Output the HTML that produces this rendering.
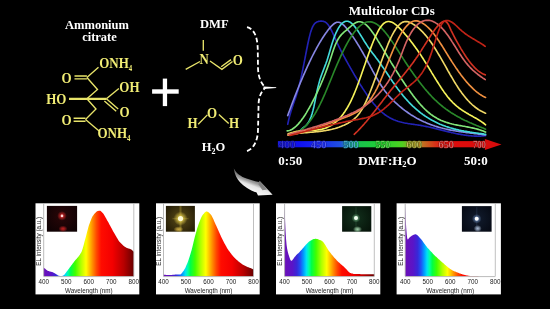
<!DOCTYPE html>
<html><head><meta charset="utf-8"><style>
html,body{margin:0;padding:0;background:#000;}
svg{display:block;}
.t{font-family:"Liberation Serif",serif;font-weight:bold;fill:#fff;}
.y{font-family:"Liberation Serif",serif;font-weight:bold;fill:#f0ec74;}
.tk{font-family:"Liberation Sans",sans-serif;font-size:6.3px;fill:#222;text-anchor:middle;}
.bl{font-family:"Liberation Serif",serif;font-size:9.6px;}
</style></head><body>
<svg width="550" height="309" viewBox="0 0 550 309">
<defs><filter id="soft" x="-5%" y="-5%" width="110%" height="110%"><feGaussianBlur stdDeviation="0.5"/></filter><linearGradient id="sg0" gradientUnits="userSpaceOnUse" x1="43.7" y1="0" x2="133.8" y2="0"><stop offset="0.0000" stop-color="#6c10b8"/><stop offset="0.0875" stop-color="#5a14c8"/><stop offset="0.1375" stop-color="#3828d8"/><stop offset="0.1750" stop-color="#2050f4"/><stop offset="0.2125" stop-color="#00a0ff"/><stop offset="0.2425" stop-color="#00e0f4"/><stop offset="0.2700" stop-color="#00ffa8"/><stop offset="0.3000" stop-color="#00ff48"/><stop offset="0.3500" stop-color="#40ff00"/><stop offset="0.4125" stop-color="#b0ff00"/><stop offset="0.4700" stop-color="#ffff00"/><stop offset="0.5000" stop-color="#ffd000"/><stop offset="0.5375" stop-color="#ff9400"/><stop offset="0.5875" stop-color="#ff4800"/><stop offset="0.6375" stop-color="#ff0c00"/><stop offset="0.7625" stop-color="#f40000"/><stop offset="0.8875" stop-color="#b80000"/><stop offset="1.0000" stop-color="#680000"/></linearGradient><radialGradient id="glow0"><stop offset="0" stop-color="#e02828" stop-opacity="1"/><stop offset="0.45" stop-color="#e02828" stop-opacity="0.6"/><stop offset="1" stop-color="#e02828" stop-opacity="0"/></radialGradient><radialGradient id="rg0"><stop offset="0" stop-color="#c02020" stop-opacity="1"/><stop offset="0.4" stop-color="#c02020" stop-opacity="0.7"/><stop offset="1" stop-color="#c02020" stop-opacity="0"/></radialGradient><radialGradient id="ibg0" gradientUnits="userSpaceOnUse" cx="62" cy="215.9" r="18"><stop offset="0" stop-color="#2a0608"/><stop offset="1" stop-color="#100204"/></radialGradient><linearGradient id="sg1" gradientUnits="userSpaceOnUse" x1="163.5" y1="0" x2="253.5" y2="0"><stop offset="0.0000" stop-color="#6c10b8"/><stop offset="0.0875" stop-color="#5a14c8"/><stop offset="0.1375" stop-color="#3828d8"/><stop offset="0.1750" stop-color="#2050f4"/><stop offset="0.2125" stop-color="#00a0ff"/><stop offset="0.2425" stop-color="#00e0f4"/><stop offset="0.2700" stop-color="#00ffa8"/><stop offset="0.3000" stop-color="#00ff48"/><stop offset="0.3500" stop-color="#40ff00"/><stop offset="0.4125" stop-color="#b0ff00"/><stop offset="0.4700" stop-color="#ffff00"/><stop offset="0.5000" stop-color="#ffd000"/><stop offset="0.5375" stop-color="#ff9400"/><stop offset="0.5875" stop-color="#ff4800"/><stop offset="0.6375" stop-color="#ff0c00"/><stop offset="0.7625" stop-color="#f40000"/><stop offset="0.8875" stop-color="#b80000"/><stop offset="1.0000" stop-color="#680000"/></linearGradient><radialGradient id="glow1"><stop offset="0" stop-color="#f4dc50" stop-opacity="1"/><stop offset="0.45" stop-color="#f4dc50" stop-opacity="0.6"/><stop offset="1" stop-color="#f4dc50" stop-opacity="0"/></radialGradient><radialGradient id="rg1"><stop offset="0" stop-color="#c8a840" stop-opacity="1"/><stop offset="0.4" stop-color="#c8a840" stop-opacity="0.7"/><stop offset="1" stop-color="#c8a840" stop-opacity="0"/></radialGradient><radialGradient id="ibg1" gradientUnits="userSpaceOnUse" cx="180.5" cy="218.6" r="18"><stop offset="0" stop-color="#5a4c18"/><stop offset="1" stop-color="#241c06"/></radialGradient><linearGradient id="sg2" gradientUnits="userSpaceOnUse" x1="284.6" y1="0" x2="374.3" y2="0"><stop offset="0.0000" stop-color="#6c10b8"/><stop offset="0.0875" stop-color="#5a14c8"/><stop offset="0.1375" stop-color="#3828d8"/><stop offset="0.1750" stop-color="#2050f4"/><stop offset="0.2125" stop-color="#00a0ff"/><stop offset="0.2425" stop-color="#00e0f4"/><stop offset="0.2700" stop-color="#00ffa8"/><stop offset="0.3000" stop-color="#00ff48"/><stop offset="0.3500" stop-color="#40ff00"/><stop offset="0.4125" stop-color="#b0ff00"/><stop offset="0.4700" stop-color="#ffff00"/><stop offset="0.5000" stop-color="#ffd000"/><stop offset="0.5375" stop-color="#ff9400"/><stop offset="0.5875" stop-color="#ff4800"/><stop offset="0.6375" stop-color="#ff0c00"/><stop offset="0.7625" stop-color="#f40000"/><stop offset="0.8875" stop-color="#b80000"/><stop offset="1.0000" stop-color="#680000"/></linearGradient><radialGradient id="glow2"><stop offset="0" stop-color="#70b080" stop-opacity="1"/><stop offset="0.45" stop-color="#70b080" stop-opacity="0.6"/><stop offset="1" stop-color="#70b080" stop-opacity="0"/></radialGradient><radialGradient id="rg2"><stop offset="0" stop-color="#a0d0a8" stop-opacity="1"/><stop offset="0.4" stop-color="#a0d0a8" stop-opacity="0.7"/><stop offset="1" stop-color="#a0d0a8" stop-opacity="0"/></radialGradient><radialGradient id="ibg2" gradientUnits="userSpaceOnUse" cx="356" cy="218.1" r="18"><stop offset="0" stop-color="#12301c"/><stop offset="1" stop-color="#06140a"/></radialGradient><linearGradient id="sg3" gradientUnits="userSpaceOnUse" x1="405.2" y1="0" x2="495.3" y2="0"><stop offset="0.0000" stop-color="#6c10b8"/><stop offset="0.0875" stop-color="#5a14c8"/><stop offset="0.1375" stop-color="#3828d8"/><stop offset="0.1750" stop-color="#2050f4"/><stop offset="0.2125" stop-color="#00a0ff"/><stop offset="0.2425" stop-color="#00e0f4"/><stop offset="0.2700" stop-color="#00ffa8"/><stop offset="0.3000" stop-color="#00ff48"/><stop offset="0.3500" stop-color="#40ff00"/><stop offset="0.4125" stop-color="#b0ff00"/><stop offset="0.4700" stop-color="#ffff00"/><stop offset="0.5000" stop-color="#ffd000"/><stop offset="0.5375" stop-color="#ff9400"/><stop offset="0.5875" stop-color="#ff4800"/><stop offset="0.6375" stop-color="#ff0c00"/><stop offset="0.7625" stop-color="#f40000"/><stop offset="0.8875" stop-color="#b80000"/><stop offset="1.0000" stop-color="#680000"/></linearGradient><radialGradient id="glow3"><stop offset="0" stop-color="#7090c0" stop-opacity="1"/><stop offset="0.45" stop-color="#7090c0" stop-opacity="0.6"/><stop offset="1" stop-color="#7090c0" stop-opacity="0"/></radialGradient><radialGradient id="rg3"><stop offset="0" stop-color="#a8b8d0" stop-opacity="1"/><stop offset="0.4" stop-color="#a8b8d0" stop-opacity="0.7"/><stop offset="1" stop-color="#a8b8d0" stop-opacity="0"/></radialGradient><radialGradient id="ibg3" gradientUnits="userSpaceOnUse" cx="476.7" cy="218.8" r="18"><stop offset="0" stop-color="#121c2e"/><stop offset="1" stop-color="#060a14"/></radialGradient><linearGradient id="bar" x1="0" y1="0" x2="1" y2="0"><stop offset="0" stop-color="#1a1ad8"/><stop offset="0.1" stop-color="#1010f0"/><stop offset="0.2" stop-color="#1828f0"/><stop offset="0.3" stop-color="#2050e0"/><stop offset="0.33" stop-color="#2080b0"/><stop offset="0.38" stop-color="#18c050"/><stop offset="0.5" stop-color="#20d030"/><stop offset="0.6" stop-color="#50d020"/><stop offset="0.64" stop-color="#90a020"/><stop offset="0.7" stop-color="#c07020"/><stop offset="0.76" stop-color="#d83018"/><stop offset="0.82" stop-color="#e00c0c"/><stop offset="1" stop-color="#d80c0c"/></linearGradient><linearGradient id="arw" gradientUnits="userSpaceOnUse" x1="249" y1="177" x2="244.5" y2="189"><stop offset="0" stop-color="#6e6e6e"/><stop offset="0.3" stop-color="#a0a0a0"/><stop offset="0.55" stop-color="#e6e6e6"/><stop offset="1" stop-color="#f6f6f6"/></linearGradient></defs>
<rect width="550" height="309" fill="#000"/>
<!-- titles -->
<text x="97" y="28.8" class="t" font-size="12.5" text-anchor="middle">Ammonium</text>
<text x="99.5" y="40.7" class="t" font-size="12.5" text-anchor="middle">citrate</text>
<text x="214.3" y="28.2" class="t" font-size="12.6" text-anchor="middle">DMF</text>
<text x="391.8" y="14.5" class="t" font-size="13" text-anchor="middle">Multicolor CDs</text>
<text x="213.6" y="151.3" class="t" font-size="12.5" text-anchor="middle">H<tspan font-size="8" dy="2.5">2</tspan><tspan dy="-2.5">O</tspan></text>
<text x="278.3" y="164.5" class="t" font-size="13">0:50</text>
<text x="358.3" y="164.5" class="t" font-size="13">DMF:H<tspan font-size="8.5" dy="2.5">2</tspan><tspan dy="-2.5">O</tspan></text>
<text x="463.9" y="164.5" class="t" font-size="13">50:0</text>
<!-- ammonium citrate structure -->
<g stroke="#e8e46a" stroke-width="1.35" fill="none">
<path d="M74.5,76 H86.9 M74.5,78.9 H86.9"/>
<path d="M86.9,77.5 L98.5,67.3 M86.9,77.5 L97.5,89.5 L86.9,98.7"/>
<path d="M69,98.9 H106.4" stroke-width="2.1"/>
<path d="M106.4,98.7 L118.9,88.4"/>
<path d="M106.4,98.7 L118.2,109.1 M104.4,100.9 L116.2,111.3"/>
<path d="M86.9,98.7 L96,109 L85.5,119.5"/>
<path d="M73.6,118.2 H85.5 M73.6,121.2 H85.5"/>
<path d="M85.5,119.5 L99.1,130.9"/>
</g>
<text transform="translate(99.2,68) scale(1,1.16)" class="y" font-size="13">ONH<tspan font-size="6.8" dy="2.3">4</tspan></text>
<text transform="translate(61.6,83) scale(1,1.16)" class="y" font-size="13">O</text>
<text transform="translate(119.3,91.7) scale(1,1.16)" class="y" font-size="13">OH</text>
<text transform="translate(46.2,103.6) scale(1,1.16)" class="y" font-size="13">HO</text>
<text transform="translate(119.6,116.6) scale(1,1.16)" class="y" font-size="13">O</text>
<text transform="translate(61.6,124.6) scale(1,1.16)" class="y" font-size="13">O</text>
<text transform="translate(97.4,138) scale(1,1.16)" class="y" font-size="13">ONH<tspan font-size="6.8" dy="2.3">4</tspan></text>
<!-- plus -->
<rect x="152.1" y="89.3" width="26.6" height="4.4" fill="#fff"/>
<rect x="162.8" y="78.6" width="4.3" height="27.5" fill="#fff"/>
<!-- DMF structure -->
<g stroke="#e8e46a" stroke-width="1.35" fill="none">
<path d="M203.3,40.1 V50.8"/>
<path d="M200,61.5 L185.7,69.4"/>
<path d="M210,61 L221.9,69.4 L232.5,61.5 M221.2,66.8 L231,59.6"/>
</g>
<text transform="translate(199.6,64.3) scale(1,1.16)" class="y" font-size="12.8">N</text>
<text transform="translate(232.8,65) scale(1,1.16)" class="y" font-size="13">O</text>
<!-- water -->
<g stroke="#e8e46a" stroke-width="1.35" fill="none"><path d="M198.2,124.2 L207.4,114.9 M218.9,114.4 L228.7,123.6"/></g>
<text transform="translate(187.5,127.6) scale(1,1.16)" class="y" font-size="13">H</text>
<text transform="translate(207,117.5) scale(1,1.16)" class="y" font-size="13">O</text>
<text transform="translate(229,127.9) scale(1,1.16)" class="y" font-size="13">H</text>
<!-- brace -->
<g stroke="#fff" stroke-width="1.8" fill="none" stroke-dasharray="4.8,2.6">
<path d="M247,27.1 C252,28.2 255.5,33 256.8,40 C257.6,44 257.8,48 257.8,52 L258,68 C258.2,76 260.5,83 265.5,87.6"/>
<path d="M265.5,87.6 C261,91.5 258.8,97 258.6,104 L258,130 C257.8,140 254,148.5 247,151.1" stroke-dashoffset="2"/>
</g>
<path d="M263.5,86.5 L276.2,87.3 L276.2,88 L263.5,88.9 Z" fill="#fff"/>
<!-- spectra curves -->
<g fill="none" stroke-width="1.65" stroke-linejoin="round" stroke-linecap="round" filter="url(#soft)">
<path d="M287.7,124.3 L288.7,119.8 L289.7,115.9 L290.7,112.3 L291.7,109.0 L292.7,106.0 L293.7,103.1 L294.7,100.3 L295.7,97.4 L296.7,94.3 L297.7,91.0 L298.7,87.4 L299.7,83.4 L300.7,79.1 L301.7,74.6 L302.7,69.8 L303.7,64.9 L304.7,59.8 L305.7,54.6 L306.7,49.5 L307.7,44.5 L308.7,39.8 L309.7,35.6 L310.7,31.9 L311.7,29.0 L312.7,26.6 L313.7,24.9 L314.7,23.6 L315.7,22.7 L316.7,22.1 L317.7,21.7 L318.7,21.4 L319.7,21.2 L320.7,21.1 L321.7,21.1 L322.7,21.2 L323.7,21.4 L324.7,21.8 L325.7,22.4 L326.7,23.2 L327.7,24.3 L328.7,25.6 L329.7,27.2 L330.7,29.0 L331.7,30.9 L332.7,33.0 L333.7,35.1 L334.7,37.4 L335.7,39.6 L336.7,41.8 L337.7,44.0 L338.7,46.1 L339.7,48.2 L340.7,50.2 L341.7,52.1 L342.7,54.0 L343.7,55.9 L344.7,57.7 L345.7,59.5 L346.7,61.3 L347.7,63.1 L348.7,64.9 L349.7,66.6 L350.7,68.4 L351.7,70.2 L352.7,71.9 L353.7,73.6 L354.7,75.3 L355.7,77.0 L356.7,78.7 L357.7,80.4 L358.7,82.0 L359.7,83.7 L360.7,85.3 L361.7,86.8 L362.7,88.4 L363.7,89.9 L364.7,91.4 L365.7,92.9 L366.7,94.4 L367.7,95.8 L368.7,97.2 L369.7,98.5 L370.7,99.9 L371.7,101.2 L372.7,102.4 L373.7,103.7 L374.7,104.8 L375.7,106.0 L376.7,107.1 L377.7,108.2 L378.7,109.2 L379.7,110.2 L380.7,111.1 L381.7,112.0 L382.7,112.9 L383.7,113.7 L384.7,114.5 L385.7,115.2 L386.7,115.9 L387.7,116.5 L388.7,117.1 L389.7,117.7 L390.7,118.2 L391.7,118.7 L392.7,119.2 L393.7,119.7 L394.7,120.1 L395.7,120.5 L396.7,120.8 L397.7,121.2 L398.7,121.5 L399.7,121.8 L400.7,122.0 L401.7,122.3 L402.7,122.5 L403.7,122.8 L404.7,123.0 L405.7,123.2 L406.7,123.3 L407.7,123.5 L408.7,123.7 L409.7,123.8 L410.7,124.0 L411.7,124.1 L412.7,124.3 L413.7,124.4 L414.7,124.5 L415.7,124.7 L416.7,124.8 L417.7,125.0 L418.7,125.1 L419.7,125.3 L420.7,125.4 L421.7,125.6 L422.7,125.8 L423.7,126.0 L424.7,126.2 L425.7,126.4 L426.7,126.6 L427.7,126.8 L428.7,127.0 L429.7,127.2 L430.7,127.4 L431.7,127.7 L432.7,127.9 L433.7,128.1 L434.7,128.4 L435.7,128.6 L436.7,128.9 L437.7,129.1 L438.7,129.4 L439.7,129.6 L440.7,129.9 L441.7,130.1 L442.7,130.4 L443.7,130.6 L444.7,130.9 L445.7,131.1 L446.7,131.4 L447.7,131.6 L448.7,131.9 L449.7,132.1 L450.7,132.3 L451.7,132.6 L452.7,132.8 L453.7,133.0 L454.7,133.2 L455.7,133.5 L456.7,133.7 L457.7,133.9 L458.7,134.1 L459.7,134.3 L460.7,134.4 L461.7,134.6 L462.7,134.8 L463.7,135.0 L464.7,135.1 L465.7,135.3 L466.7,135.4 L467.7,135.5 L468.7,135.6 L469.7,135.7 L470.7,135.8 L471.7,135.9 L472.7,136.0 L473.7,136.0 L474.7,136.1 L475.7,136.1 L476.7,136.1 L477.7,136.2 L478.7,136.1 L479.7,136.1 L480.7,136.1 L481.7,136.0 L482.7,136.0 L483.7,135.9 L484.7,135.8 L485.6,135.7" stroke="#2222b4" />
<path d="M287.7,115.6 L288.7,112.9 L289.7,110.2 L290.7,107.5 L291.7,104.8 L292.7,102.1 L293.7,99.5 L294.7,96.9 L295.7,94.4 L296.7,91.8 L297.7,89.3 L298.7,86.8 L299.7,84.4 L300.7,81.9 L301.7,79.6 L302.7,77.2 L303.7,74.9 L304.7,72.6 L305.7,70.3 L306.7,68.1 L307.7,65.9 L308.7,63.8 L309.7,61.6 L310.7,59.6 L311.7,57.5 L312.7,55.5 L313.7,53.6 L314.7,51.6 L315.7,49.8 L316.7,47.9 L317.7,46.1 L318.7,44.4 L319.7,42.7 L320.7,41.0 L321.7,39.4 L322.7,37.8 L323.7,36.3 L324.7,34.8 L325.7,33.3 L326.7,32.0 L327.7,30.6 L328.7,29.3 L329.7,28.1 L330.7,26.9 L331.7,25.8 L332.7,24.8 L333.7,24.0 L334.7,23.3 L335.7,22.7 L336.7,22.3 L337.7,22.2 L338.7,22.2 L339.7,22.5 L340.7,22.9 L341.7,23.5 L342.7,24.3 L343.7,25.2 L344.7,26.2 L345.7,27.3 L346.7,28.5 L347.7,29.7 L348.7,31.0 L349.7,32.3 L350.7,33.6 L351.7,35.0 L352.7,36.4 L353.7,37.9 L354.7,39.4 L355.7,40.9 L356.7,42.5 L357.7,44.1 L358.7,45.7 L359.7,47.4 L360.7,49.1 L361.7,50.8 L362.7,52.5 L363.7,54.3 L364.7,56.1 L365.7,57.9 L366.7,59.7 L367.7,61.5 L368.7,63.4 L369.7,65.2 L370.7,67.1 L371.7,68.9 L372.7,70.8 L373.7,72.6 L374.7,74.4 L375.7,76.2 L376.7,78.0 L377.7,79.7 L378.7,81.4 L379.7,83.1 L380.7,84.7 L381.7,86.3 L382.7,87.8 L383.7,89.3 L384.7,90.7 L385.7,92.0 L386.7,93.3 L387.7,94.5 L388.7,95.7 L389.7,96.8 L390.7,97.9 L391.7,98.9 L392.7,99.9 L393.7,100.9 L394.7,101.9 L395.7,102.8 L396.7,103.7 L397.7,104.6 L398.7,105.5 L399.7,106.4 L400.7,107.2 L401.7,108.0 L402.7,108.8 L403.7,109.6 L404.7,110.4 L405.7,111.1 L406.7,111.8 L407.7,112.5 L408.7,113.2 L409.7,113.9 L410.7,114.6 L411.7,115.2 L412.7,115.8 L413.7,116.4 L414.7,117.0 L415.7,117.6 L416.7,118.2 L417.7,118.7 L418.7,119.2 L419.7,119.8 L420.7,120.3 L421.7,120.8 L422.7,121.2 L423.7,121.7 L424.7,122.1 L425.7,122.6 L426.7,123.0 L427.7,123.4 L428.7,123.8 L429.7,124.2 L430.7,124.6 L431.7,124.9 L432.7,125.3 L433.7,125.6 L434.7,126.0 L435.7,126.3 L436.7,126.6 L437.7,126.9 L438.7,127.2 L439.7,127.5 L440.7,127.8 L441.7,128.0 L442.7,128.3 L443.7,128.5 L444.7,128.8 L445.7,129.0 L446.7,129.2 L447.7,129.4 L448.7,129.7 L449.7,129.9 L450.7,130.1 L451.7,130.3 L452.7,130.4 L453.7,130.6 L454.7,130.8 L455.7,131.0 L456.7,131.1 L457.7,131.3 L458.7,131.5 L459.7,131.6 L460.7,131.8 L461.7,131.9 L462.7,132.0 L463.7,132.2 L464.7,132.3 L465.7,132.5 L466.7,132.6 L467.7,132.7 L468.7,132.8 L469.7,133.0 L470.7,133.1 L471.7,133.2 L472.7,133.3 L473.7,133.5 L474.7,133.6 L475.7,133.7 L476.7,133.8 L477.7,134.0 L478.7,134.1 L479.7,134.2 L480.7,134.3 L481.7,134.5 L482.7,134.6 L483.7,134.7 L484.7,134.9 L485.6,135.0" stroke="#8686e2" />
<path d="M300.0,130.9 L301.0,129.8 L302.0,128.8 L303.0,128.0 L304.0,127.2 L305.0,126.4 L306.0,125.5 L307.0,124.4 L308.0,123.1 L309.0,121.5 L310.0,119.4 L311.0,117.0 L312.0,114.0 L313.0,110.4 L314.0,106.2 L315.0,101.3 L316.0,96.2 L317.0,91.3 L318.0,86.9 L319.0,83.1 L320.0,79.6 L321.0,76.6 L322.0,73.7 L323.0,71.1 L324.0,68.5 L325.0,65.9 L326.0,63.3 L327.0,60.4 L328.0,57.2 L329.0,53.9 L330.0,50.4 L331.0,47.0 L332.0,43.7 L333.0,40.7 L334.0,37.9 L335.0,35.3 L336.0,32.9 L337.0,30.8 L338.0,28.9 L339.0,27.2 L340.0,25.8 L341.0,24.5 L342.0,23.5 L343.0,22.6 L344.0,22.0 L345.0,21.5 L346.0,21.3 L347.0,21.2 L348.0,21.3 L349.0,21.7 L350.0,22.1 L351.0,22.8 L352.0,23.6 L353.0,24.6 L354.0,25.7 L355.0,26.9 L356.0,28.2 L357.0,29.6 L358.0,31.0 L359.0,32.6 L360.0,34.1 L361.0,35.8 L362.0,37.4 L363.0,39.0 L364.0,40.7 L365.0,42.3 L366.0,43.8 L367.0,45.4 L368.0,46.9 L369.0,48.3 L370.0,49.7 L371.0,51.1 L372.0,52.4 L373.0,53.7 L374.0,55.0 L375.0,56.3 L376.0,57.7 L377.0,59.0 L378.0,60.3 L379.0,61.7 L380.0,63.1 L381.0,64.5 L382.0,66.0 L383.0,67.4 L384.0,68.9 L385.0,70.4 L386.0,71.8 L387.0,73.3 L388.0,74.8 L389.0,76.3 L390.0,77.8 L391.0,79.3 L392.0,80.7 L393.0,82.2 L394.0,83.6 L395.0,85.0 L396.0,86.4 L397.0,87.8 L398.0,89.2 L399.0,90.5 L400.0,91.8 L401.0,93.1 L402.0,94.3 L403.0,95.6 L404.0,96.7 L405.0,97.9 L406.0,99.0 L407.0,100.1 L408.0,101.2 L409.0,102.3 L410.0,103.3 L411.0,104.3 L412.0,105.3 L413.0,106.3 L414.0,107.2 L415.0,108.1 L416.0,109.0 L417.0,109.8 L418.0,110.7 L419.0,111.5 L420.0,112.3 L421.0,113.1 L422.0,113.8 L423.0,114.6 L424.0,115.3 L425.0,116.0 L426.0,116.6 L427.0,117.3 L428.0,117.9 L429.0,118.5 L430.0,119.1 L431.0,119.7 L432.0,120.3 L433.0,120.8 L434.0,121.3 L435.0,121.8 L436.0,122.3 L437.0,122.8 L438.0,123.3 L439.0,123.7 L440.0,124.2 L441.0,124.6 L442.0,125.0 L443.0,125.4 L444.0,125.7 L445.0,126.1 L446.0,126.5 L447.0,126.8 L448.0,127.1 L449.0,127.4 L450.0,127.8 L451.0,128.0 L452.0,128.3 L453.0,128.6 L454.0,128.9 L455.0,129.1 L456.0,129.4 L457.0,129.6 L458.0,129.8 L459.0,130.1 L460.0,130.3 L461.0,130.5 L462.0,130.7 L463.0,130.9 L464.0,131.1 L465.0,131.2 L466.0,131.4 L467.0,131.6 L468.0,131.8 L469.0,131.9 L470.0,132.1 L471.0,132.2 L472.0,132.4 L473.0,132.5 L474.0,132.7 L475.0,132.8 L476.0,133.0 L477.0,133.1 L478.0,133.2 L479.0,133.4 L480.0,133.5 L481.0,133.6 L482.0,133.8 L483.0,133.9 L484.0,134.1 L485.0,134.2 L485.6,134.3" stroke="#42dada" />
<path d="M287.2,130.9 L288.2,130.7 L289.2,130.5 L290.2,130.2 L291.2,129.7 L292.2,129.2 L293.2,128.5 L294.2,127.8 L295.2,127.0 L296.2,126.1 L297.2,125.1 L298.2,124.1 L299.2,122.9 L300.2,121.7 L301.2,120.5 L302.2,119.1 L303.2,117.7 L304.2,116.2 L305.2,114.7 L306.2,113.1 L307.2,111.4 L308.2,109.7 L309.2,108.0 L310.2,106.1 L311.2,104.3 L312.2,102.4 L313.2,100.5 L314.2,98.5 L315.2,96.5 L316.2,94.4 L317.2,92.3 L318.2,90.2 L319.2,88.0 L320.2,85.8 L321.2,83.5 L322.2,81.2 L323.2,78.7 L324.2,76.3 L325.2,73.7 L326.2,71.1 L327.2,68.4 L328.2,65.6 L329.2,62.7 L330.2,59.7 L331.2,56.7 L332.2,53.6 L333.2,50.6 L334.2,47.8 L335.2,45.1 L336.2,42.8 L337.2,40.8 L338.2,39.0 L339.2,37.5 L340.2,36.1 L341.2,34.9 L342.2,33.8 L343.2,32.8 L344.2,31.9 L345.2,31.1 L346.2,30.3 L347.2,29.5 L348.2,28.6 L349.2,27.7 L350.2,26.9 L351.2,26.0 L352.2,25.1 L353.2,24.4 L354.2,23.6 L355.2,23.0 L356.2,22.5 L357.2,22.1 L358.2,21.8 L359.2,21.7 L360.2,21.8 L361.2,22.0 L362.2,22.3 L363.2,22.8 L364.2,23.4 L365.2,24.1 L366.2,24.9 L367.2,25.9 L368.2,26.9 L369.2,28.0 L370.2,29.2 L371.2,30.5 L372.2,31.9 L373.2,33.3 L374.2,34.8 L375.2,36.3 L376.2,37.8 L377.2,39.4 L378.2,41.1 L379.2,42.7 L380.2,44.4 L381.2,46.0 L382.2,47.7 L383.2,49.4 L384.2,51.0 L385.2,52.7 L386.2,54.3 L387.2,56.0 L388.2,57.7 L389.2,59.3 L390.2,60.9 L391.2,62.6 L392.2,64.2 L393.2,65.8 L394.2,67.4 L395.2,69.1 L396.2,70.6 L397.2,72.2 L398.2,73.8 L399.2,75.4 L400.2,76.9 L401.2,78.5 L402.2,80.0 L403.2,81.5 L404.2,83.0 L405.2,84.5 L406.2,85.9 L407.2,87.4 L408.2,88.8 L409.2,90.2 L410.2,91.6 L411.2,93.0 L412.2,94.3 L413.2,95.7 L414.2,97.0 L415.2,98.3 L416.2,99.5 L417.2,100.7 L418.2,101.9 L419.2,103.1 L420.2,104.2 L421.2,105.4 L422.2,106.4 L423.2,107.5 L424.2,108.5 L425.2,109.5 L426.2,110.4 L427.2,111.3 L428.2,112.2 L429.2,113.0 L430.2,113.8 L431.2,114.6 L432.2,115.3 L433.2,116.0 L434.2,116.6 L435.2,117.2 L436.2,117.8 L437.2,118.4 L438.2,118.9 L439.2,119.4 L440.2,119.9 L441.2,120.4 L442.2,120.8 L443.2,121.2 L444.2,121.6 L445.2,121.9 L446.2,122.3 L447.2,122.6 L448.2,122.9 L449.2,123.2 L450.2,123.5 L451.2,123.7 L452.2,124.0 L453.2,124.2 L454.2,124.5 L455.2,124.7 L456.2,124.9 L457.2,125.1 L458.2,125.3 L459.2,125.5 L460.2,125.6 L461.2,125.8 L462.2,126.0 L463.2,126.2 L464.2,126.3 L465.2,126.5 L466.2,126.7 L467.2,126.9 L468.2,127.1 L469.2,127.3 L470.2,127.5 L471.2,127.7 L472.2,127.9 L473.2,128.1 L474.2,128.3 L475.2,128.6 L476.2,128.8 L477.2,129.1 L478.2,129.4 L479.2,129.7 L480.2,130.0 L481.2,130.4 L482.2,130.7 L483.2,131.1 L484.2,131.5 L485.2,131.9 L485.6,132.1" stroke="#82e67a" />
<path d="M293.0,133.1 L294.0,133.0 L295.0,132.8 L296.0,132.5 L297.0,132.2 L298.0,131.7 L299.0,131.2 L300.0,130.6 L301.0,130.0 L302.0,129.3 L303.0,128.5 L304.0,127.6 L305.0,126.7 L306.0,125.7 L307.0,124.6 L308.0,123.5 L309.0,122.3 L310.0,121.0 L311.0,119.7 L312.0,118.3 L313.0,116.8 L314.0,115.3 L315.0,113.7 L316.0,112.0 L317.0,110.2 L318.0,108.4 L319.0,106.5 L320.0,104.5 L321.0,102.4 L322.0,100.3 L323.0,98.1 L324.0,95.8 L325.0,93.6 L326.0,91.2 L327.0,88.9 L328.0,86.5 L329.0,84.0 L330.0,81.6 L331.0,79.2 L332.0,76.7 L333.0,74.3 L334.0,71.8 L335.0,69.4 L336.0,67.0 L337.0,64.7 L338.0,62.4 L339.0,60.1 L340.0,57.8 L341.0,55.6 L342.0,53.5 L343.0,51.4 L344.0,49.4 L345.0,47.4 L346.0,45.5 L347.0,43.7 L348.0,41.9 L349.0,40.2 L350.0,38.5 L351.0,36.9 L352.0,35.4 L353.0,34.0 L354.0,32.6 L355.0,31.3 L356.0,30.1 L357.0,28.9 L358.0,27.9 L359.0,26.9 L360.0,26.0 L361.0,25.1 L362.0,24.4 L363.0,23.7 L364.0,23.2 L365.0,22.7 L366.0,22.3 L367.0,22.0 L368.0,21.9 L369.0,21.8 L370.0,21.8 L371.0,21.9 L372.0,22.1 L373.0,22.4 L374.0,22.8 L375.0,23.2 L376.0,23.8 L377.0,24.4 L378.0,25.1 L379.0,25.9 L380.0,26.8 L381.0,27.7 L382.0,28.7 L383.0,29.8 L384.0,30.9 L385.0,32.0 L386.0,33.2 L387.0,34.5 L388.0,35.8 L389.0,37.2 L390.0,38.5 L391.0,40.0 L392.0,41.4 L393.0,42.9 L394.0,44.4 L395.0,45.9 L396.0,47.4 L397.0,49.0 L398.0,50.5 L399.0,52.1 L400.0,53.7 L401.0,55.2 L402.0,56.8 L403.0,58.4 L404.0,59.9 L405.0,61.5 L406.0,63.0 L407.0,64.5 L408.0,66.0 L409.0,67.5 L410.0,69.0 L411.0,70.4 L412.0,71.8 L413.0,73.3 L414.0,74.7 L415.0,76.1 L416.0,77.4 L417.0,78.8 L418.0,80.1 L419.0,81.4 L420.0,82.7 L421.0,84.0 L422.0,85.3 L423.0,86.5 L424.0,87.8 L425.0,89.0 L426.0,90.1 L427.0,91.3 L428.0,92.4 L429.0,93.6 L430.0,94.6 L431.0,95.7 L432.0,96.8 L433.0,97.8 L434.0,98.8 L435.0,99.8 L436.0,100.7 L437.0,101.7 L438.0,102.6 L439.0,103.5 L440.0,104.3 L441.0,105.2 L442.0,106.0 L443.0,106.8 L444.0,107.6 L445.0,108.3 L446.0,109.1 L447.0,109.8 L448.0,110.5 L449.0,111.2 L450.0,111.9 L451.0,112.6 L452.0,113.2 L453.0,113.8 L454.0,114.4 L455.0,115.0 L456.0,115.6 L457.0,116.2 L458.0,116.8 L459.0,117.3 L460.0,117.8 L461.0,118.4 L462.0,118.9 L463.0,119.4 L464.0,119.9 L465.0,120.4 L466.0,120.8 L467.0,121.3 L468.0,121.8 L469.0,122.2 L470.0,122.7 L471.0,123.1 L472.0,123.6 L473.0,124.0 L474.0,124.4 L475.0,124.8 L476.0,125.3 L477.0,125.7 L478.0,126.1 L479.0,126.5 L480.0,126.9 L481.0,127.3 L482.0,127.7 L483.0,128.1 L484.0,128.5 L485.0,128.9 L485.6,129.2" stroke="#2a882a" />
<path d="M288.0,134.1 L289.0,133.6 L290.0,133.2 L291.0,132.9 L292.0,132.5 L293.0,132.3 L294.0,132.0 L295.0,131.8 L296.0,131.6 L297.0,131.4 L298.0,131.2 L299.0,131.1 L300.0,131.0 L301.0,130.9 L302.0,130.8 L303.0,130.8 L304.0,130.7 L305.0,130.7 L306.0,130.6 L307.0,130.6 L308.0,130.6 L309.0,130.5 L310.0,130.5 L311.0,130.5 L312.0,130.4 L313.0,130.4 L314.0,130.3 L315.0,130.2 L316.0,130.1 L317.0,130.0 L318.0,129.9 L319.0,129.8 L320.0,129.6 L321.0,129.4 L322.0,129.2 L323.0,128.9 L324.0,128.6 L325.0,128.3 L326.0,127.9 L327.0,127.6 L328.0,127.1 L329.0,126.6 L330.0,126.1 L331.0,125.5 L332.0,124.9 L333.0,124.2 L334.0,123.5 L335.0,122.7 L336.0,121.9 L337.0,121.0 L338.0,120.0 L339.0,119.0 L340.0,117.9 L341.0,116.8 L342.0,115.5 L343.0,114.2 L344.0,112.8 L345.0,111.4 L346.0,109.8 L347.0,108.2 L348.0,106.5 L349.0,104.7 L350.0,102.8 L351.0,100.8 L352.0,98.7 L353.0,96.5 L354.0,94.2 L355.0,91.8 L356.0,89.3 L357.0,86.7 L358.0,84.0 L359.0,81.3 L360.0,78.5 L361.0,75.7 L362.0,72.8 L363.0,70.0 L364.0,67.1 L365.0,64.2 L366.0,61.3 L367.0,58.4 L368.0,55.6 L369.0,52.8 L370.0,50.1 L371.0,47.4 L372.0,44.8 L373.0,42.3 L374.0,39.8 L375.0,37.5 L376.0,35.3 L377.0,33.3 L378.0,31.3 L379.0,29.5 L380.0,27.9 L381.0,26.5 L382.0,25.2 L383.0,24.1 L384.0,23.2 L385.0,22.6 L386.0,22.0 L387.0,21.7 L388.0,21.5 L389.0,21.5 L390.0,21.7 L391.0,21.9 L392.0,22.3 L393.0,22.8 L394.0,23.4 L395.0,24.1 L396.0,24.9 L397.0,25.7 L398.0,26.6 L399.0,27.6 L400.0,28.6 L401.0,29.6 L402.0,30.7 L403.0,31.8 L404.0,32.9 L405.0,34.1 L406.0,35.2 L407.0,36.4 L408.0,37.6 L409.0,38.9 L410.0,40.1 L411.0,41.4 L412.0,42.7 L413.0,44.0 L414.0,45.4 L415.0,46.8 L416.0,48.2 L417.0,49.6 L418.0,51.0 L419.0,52.5 L420.0,53.9 L421.0,55.4 L422.0,57.0 L423.0,58.5 L424.0,60.1 L425.0,61.7 L426.0,63.3 L427.0,64.9 L428.0,66.5 L429.0,68.1 L430.0,69.8 L431.0,71.4 L432.0,73.1 L433.0,74.7 L434.0,76.4 L435.0,78.0 L436.0,79.6 L437.0,81.2 L438.0,82.8 L439.0,84.4 L440.0,85.9 L441.0,87.5 L442.0,89.0 L443.0,90.4 L444.0,91.9 L445.0,93.3 L446.0,94.6 L447.0,95.9 L448.0,97.2 L449.0,98.4 L450.0,99.6 L451.0,100.7 L452.0,101.7 L453.0,102.8 L454.0,103.7 L455.0,104.7 L456.0,105.5 L457.0,106.4 L458.0,107.2 L459.0,108.0 L460.0,108.7 L461.0,109.4 L462.0,110.1 L463.0,110.8 L464.0,111.4 L465.0,112.0 L466.0,112.6 L467.0,113.2 L468.0,113.8 L469.0,114.4 L470.0,114.9 L471.0,115.5 L472.0,116.0 L473.0,116.6 L474.0,117.2 L475.0,117.7 L476.0,118.3 L477.0,118.9 L478.0,119.5 L479.0,120.1 L480.0,120.8 L481.0,121.4 L482.0,122.1 L483.0,122.8 L484.0,123.5 L485.0,124.3 L485.6,124.8" stroke="#f6f25a" />
<path d="M288.0,135.0 L289.0,134.8 L290.0,134.6 L291.0,134.5 L292.0,134.3 L293.0,134.1 L294.0,134.0 L295.0,133.8 L296.0,133.7 L297.0,133.6 L298.0,133.4 L299.0,133.3 L300.0,133.2 L301.0,133.1 L302.0,133.0 L303.0,132.9 L304.0,132.8 L305.0,132.7 L306.0,132.7 L307.0,132.6 L308.0,132.5 L309.0,132.4 L310.0,132.3 L311.0,132.2 L312.0,132.2 L313.0,132.1 L314.0,132.0 L315.0,131.9 L316.0,131.8 L317.0,131.7 L318.0,131.6 L319.0,131.5 L320.0,131.4 L321.0,131.2 L322.0,131.1 L323.0,131.0 L324.0,130.8 L325.0,130.7 L326.0,130.5 L327.0,130.3 L328.0,130.1 L329.0,129.9 L330.0,129.7 L331.0,129.5 L332.0,129.3 L333.0,129.0 L334.0,128.7 L335.0,128.5 L336.0,128.2 L337.0,127.9 L338.0,127.5 L339.0,127.2 L340.0,126.8 L341.0,126.4 L342.0,126.0 L343.0,125.6 L344.0,125.2 L345.0,124.7 L346.0,124.2 L347.0,123.7 L348.0,123.2 L349.0,122.6 L350.0,122.1 L351.0,121.4 L352.0,120.7 L353.0,120.0 L354.0,119.1 L355.0,118.2 L356.0,117.3 L357.0,116.2 L358.0,115.0 L359.0,113.8 L360.0,112.4 L361.0,110.9 L362.0,109.3 L363.0,107.6 L364.0,105.7 L365.0,103.7 L366.0,101.6 L367.0,99.4 L368.0,97.1 L369.0,94.7 L370.0,92.3 L371.0,89.7 L372.0,87.1 L373.0,84.5 L374.0,81.8 L375.0,79.1 L376.0,76.3 L377.0,73.5 L378.0,70.7 L379.0,68.0 L380.0,65.2 L381.0,62.4 L382.0,59.7 L383.0,57.0 L384.0,54.3 L385.0,51.7 L386.0,49.2 L387.0,46.7 L388.0,44.2 L389.0,41.9 L390.0,39.7 L391.0,37.5 L392.0,35.5 L393.0,33.6 L394.0,31.8 L395.0,30.2 L396.0,28.6 L397.0,27.3 L398.0,26.0 L399.0,25.0 L400.0,24.0 L401.0,23.2 L402.0,22.6 L403.0,22.1 L404.0,21.8 L405.0,21.6 L406.0,21.5 L407.0,21.6 L408.0,21.8 L409.0,22.1 L410.0,22.5 L411.0,23.0 L412.0,23.5 L413.0,24.1 L414.0,24.7 L415.0,25.3 L416.0,26.1 L417.0,26.8 L418.0,27.6 L419.0,28.5 L420.0,29.4 L421.0,30.3 L422.0,31.3 L423.0,32.4 L424.0,33.5 L425.0,34.6 L426.0,35.8 L427.0,37.0 L428.0,38.3 L429.0,39.6 L430.0,40.9 L431.0,42.3 L432.0,43.8 L433.0,45.3 L434.0,46.8 L435.0,48.4 L436.0,50.0 L437.0,51.6 L438.0,53.3 L439.0,55.0 L440.0,56.7 L441.0,58.4 L442.0,60.1 L443.0,61.9 L444.0,63.7 L445.0,65.4 L446.0,67.2 L447.0,69.0 L448.0,70.8 L449.0,72.5 L450.0,74.3 L451.0,76.0 L452.0,77.7 L453.0,79.4 L454.0,81.1 L455.0,82.8 L456.0,84.4 L457.0,85.9 L458.0,87.5 L459.0,89.0 L460.0,90.4 L461.0,91.8 L462.0,93.2 L463.0,94.5 L464.0,95.8 L465.0,97.0 L466.0,98.2 L467.0,99.4 L468.0,100.5 L469.0,101.5 L470.0,102.6 L471.0,103.5 L472.0,104.5 L473.0,105.4 L474.0,106.2 L475.0,107.0 L476.0,107.8 L477.0,108.5 L478.0,109.2 L479.0,109.9 L480.0,110.5 L481.0,111.1 L482.0,111.6 L483.0,112.1 L484.0,112.5 L485.0,113.0 L485.6,113.2" stroke="#f0d866" />
<path d="M288.0,135.0 L289.0,134.9 L290.0,134.7 L291.0,134.5 L292.0,134.3 L293.0,134.1 L294.0,133.9 L295.0,133.7 L296.0,133.5 L297.0,133.3 L298.0,133.0 L299.0,132.8 L300.0,132.5 L301.0,132.3 L302.0,132.0 L303.0,131.8 L304.0,131.5 L305.0,131.3 L306.0,131.0 L307.0,130.7 L308.0,130.4 L309.0,130.1 L310.0,129.8 L311.0,129.5 L312.0,129.2 L313.0,128.9 L314.0,128.6 L315.0,128.3 L316.0,128.0 L317.0,127.6 L318.0,127.3 L319.0,127.0 L320.0,126.6 L321.0,126.3 L322.0,126.0 L323.0,125.6 L324.0,125.3 L325.0,124.9 L326.0,124.6 L327.0,124.2 L328.0,123.8 L329.0,123.5 L330.0,123.1 L331.0,122.8 L332.0,122.4 L333.0,122.0 L334.0,121.6 L335.0,121.3 L336.0,120.9 L337.0,120.5 L338.0,120.1 L339.0,119.8 L340.0,119.4 L341.0,119.0 L342.0,118.6 L343.0,118.2 L344.0,117.8 L345.0,117.5 L346.0,117.1 L347.0,116.7 L348.0,116.3 L349.0,115.9 L350.0,115.5 L351.0,115.0 L352.0,114.6 L353.0,114.1 L354.0,113.6 L355.0,113.1 L356.0,112.5 L357.0,112.0 L358.0,111.3 L359.0,110.7 L360.0,110.0 L361.0,109.2 L362.0,108.4 L363.0,107.5 L364.0,106.6 L365.0,105.7 L366.0,104.6 L367.0,103.6 L368.0,102.4 L369.0,101.2 L370.0,99.9 L371.0,98.5 L372.0,97.0 L373.0,95.4 L374.0,93.8 L375.0,92.1 L376.0,90.2 L377.0,88.3 L378.0,86.2 L379.0,84.1 L380.0,81.9 L381.0,79.6 L382.0,77.2 L383.0,74.9 L384.0,72.4 L385.0,69.9 L386.0,67.4 L387.0,64.9 L388.0,62.4 L389.0,59.9 L390.0,57.5 L391.0,55.0 L392.0,52.6 L393.0,50.2 L394.0,47.9 L395.0,45.7 L396.0,43.5 L397.0,41.4 L398.0,39.4 L399.0,37.5 L400.0,35.6 L401.0,33.9 L402.0,32.2 L403.0,30.7 L404.0,29.3 L405.0,27.9 L406.0,26.7 L407.0,25.6 L408.0,24.6 L409.0,23.7 L410.0,22.9 L411.0,22.2 L412.0,21.7 L413.0,21.3 L414.0,21.0 L415.0,20.8 L416.0,20.8 L417.0,20.9 L418.0,21.1 L419.0,21.4 L420.0,21.8 L421.0,22.3 L422.0,22.9 L423.0,23.5 L424.0,24.1 L425.0,24.8 L426.0,25.6 L427.0,26.5 L428.0,27.4 L429.0,28.3 L430.0,29.3 L431.0,30.4 L432.0,31.6 L433.0,32.8 L434.0,34.1 L435.0,35.4 L436.0,36.8 L437.0,38.2 L438.0,39.7 L439.0,41.1 L440.0,42.7 L441.0,44.2 L442.0,45.8 L443.0,47.4 L444.0,49.0 L445.0,50.6 L446.0,52.3 L447.0,53.9 L448.0,55.5 L449.0,57.1 L450.0,58.7 L451.0,60.3 L452.0,61.9 L453.0,63.4 L454.0,64.9 L455.0,66.4 L456.0,67.9 L457.0,69.3 L458.0,70.8 L459.0,72.2 L460.0,73.5 L461.0,74.9 L462.0,76.2 L463.0,77.5 L464.0,78.8 L465.0,80.0 L466.0,81.2 L467.0,82.4 L468.0,83.5 L469.0,84.6 L470.0,85.7 L471.0,86.7 L472.0,87.7 L473.0,88.7 L474.0,89.6 L475.0,90.5 L476.0,91.4 L477.0,92.2 L478.0,92.9 L479.0,93.7 L480.0,94.4 L481.0,95.0 L482.0,95.6 L483.0,96.2 L484.0,96.7 L485.0,97.2 L485.6,97.5" stroke="#f09040" />
<path d="M288.0,134.5 L289.0,134.3 L290.0,134.0 L291.0,133.7 L292.0,133.4 L293.0,133.1 L294.0,132.9 L295.0,132.6 L296.0,132.3 L297.0,132.0 L298.0,131.7 L299.0,131.5 L300.0,131.2 L301.0,130.9 L302.0,130.6 L303.0,130.3 L304.0,130.0 L305.0,129.8 L306.0,129.5 L307.0,129.2 L308.0,128.9 L309.0,128.6 L310.0,128.3 L311.0,128.0 L312.0,127.7 L313.0,127.4 L314.0,127.1 L315.0,126.8 L316.0,126.5 L317.0,126.2 L318.0,125.9 L319.0,125.5 L320.0,125.2 L321.0,124.9 L322.0,124.6 L323.0,124.3 L324.0,123.9 L325.0,123.6 L326.0,123.3 L327.0,122.9 L328.0,122.6 L329.0,122.2 L330.0,121.9 L331.0,121.5 L332.0,121.2 L333.0,120.8 L334.0,120.5 L335.0,120.1 L336.0,119.7 L337.0,119.4 L338.0,119.0 L339.0,118.6 L340.0,118.2 L341.0,117.8 L342.0,117.4 L343.0,117.0 L344.0,116.6 L345.0,116.2 L346.0,115.8 L347.0,115.4 L348.0,114.9 L349.0,114.5 L350.0,114.1 L351.0,113.6 L352.0,113.1 L353.0,112.7 L354.0,112.2 L355.0,111.7 L356.0,111.2 L357.0,110.6 L358.0,110.1 L359.0,109.5 L360.0,109.0 L361.0,108.4 L362.0,107.7 L363.0,107.1 L364.0,106.5 L365.0,105.8 L366.0,105.1 L367.0,104.4 L368.0,103.6 L369.0,102.8 L370.0,102.0 L371.0,101.2 L372.0,100.3 L373.0,99.5 L374.0,98.5 L375.0,97.6 L376.0,96.6 L377.0,95.6 L378.0,94.6 L379.0,93.5 L380.0,92.4 L381.0,91.2 L382.0,90.0 L383.0,88.8 L384.0,87.5 L385.0,86.2 L386.0,84.9 L387.0,83.4 L388.0,82.0 L389.0,80.4 L390.0,78.8 L391.0,77.2 L392.0,75.4 L393.0,73.6 L394.0,71.7 L395.0,69.8 L396.0,67.7 L397.0,65.5 L398.0,63.2 L399.0,60.9 L400.0,58.3 L401.0,55.7 L402.0,53.0 L403.0,50.3 L404.0,47.7 L405.0,45.1 L406.0,42.7 L407.0,40.5 L408.0,38.4 L409.0,36.4 L410.0,34.6 L411.0,32.8 L412.0,31.3 L413.0,29.8 L414.0,28.5 L415.0,27.3 L416.0,26.1 L417.0,25.1 L418.0,24.2 L419.0,23.4 L420.0,22.7 L421.0,22.1 L422.0,21.6 L423.0,21.1 L424.0,20.8 L425.0,20.5 L426.0,20.4 L427.0,20.3 L428.0,20.3 L429.0,20.3 L430.0,20.5 L431.0,20.7 L432.0,21.0 L433.0,21.4 L434.0,21.9 L435.0,22.4 L436.0,23.1 L437.0,23.7 L438.0,24.5 L439.0,25.3 L440.0,26.2 L441.0,27.2 L442.0,28.2 L443.0,29.3 L444.0,30.4 L445.0,31.6 L446.0,32.9 L447.0,34.2 L448.0,35.6 L449.0,37.0 L450.0,38.5 L451.0,40.0 L452.0,41.6 L453.0,43.1 L454.0,44.7 L455.0,46.3 L456.0,47.9 L457.0,49.5 L458.0,51.1 L459.0,52.7 L460.0,54.3 L461.0,55.8 L462.0,57.3 L463.0,58.7 L464.0,60.1 L465.0,61.4 L466.0,62.7 L467.0,63.9 L468.0,65.1 L469.0,66.2 L470.0,67.3 L471.0,68.3 L472.0,69.3 L473.0,70.3 L474.0,71.2 L475.0,72.0 L476.0,72.9 L477.0,73.7 L478.0,74.5 L479.0,75.2 L480.0,76.0 L481.0,76.7 L482.0,77.4 L483.0,78.1 L484.0,78.7 L485.0,79.4 L485.3,79.6" stroke="#d46464" />
<path d="M354.2,134.3 L355.2,133.4 L356.2,132.4 L357.2,131.5 L358.2,130.5 L359.2,129.4 L360.2,128.4 L361.2,127.3 L362.2,126.2 L363.2,125.1 L364.2,124.0 L365.2,122.8 L366.2,121.7 L367.2,120.5 L368.2,119.3 L369.2,118.0 L370.2,116.8 L371.2,115.6 L372.2,114.3 L373.2,113.0 L374.2,111.8 L375.2,110.5 L376.2,109.2 L377.2,107.9 L378.2,106.6 L379.2,105.3 L380.2,104.0 L381.2,102.7 L382.2,101.4 L383.2,100.1 L384.2,98.8 L385.2,97.5 L386.2,96.2 L387.2,94.9 L388.2,93.6 L389.2,92.4 L390.2,91.1 L391.2,89.8 L392.2,88.6 L393.2,87.4 L394.2,86.1 L395.2,84.9 L396.2,83.7 L397.2,82.5 L398.2,81.3 L399.2,80.1 L400.2,78.9 L401.2,77.7 L402.2,76.5 L403.2,75.3 L404.2,74.1 L405.2,72.8 L406.2,71.6 L407.2,70.3 L408.2,69.0 L409.2,67.8 L410.2,66.4 L411.2,65.1 L412.2,63.8 L413.2,62.4 L414.2,61.0 L415.2,59.6 L416.2,58.1 L417.2,56.7 L418.2,55.2 L419.2,53.6 L420.2,52.1 L421.2,50.6 L422.2,49.0 L423.2,47.4 L424.2,45.9 L425.2,44.3 L426.2,42.7 L427.2,41.1 L428.2,39.6 L429.2,38.0 L430.2,36.5 L431.2,34.9 L432.2,33.4 L433.2,32.0 L434.2,30.5 L435.2,29.1 L436.2,27.8 L437.2,26.6 L438.2,25.4 L439.2,24.4 L440.2,23.4 L441.2,22.6 L442.2,21.9 L443.2,21.4 L444.2,21.2 L445.2,21.3 L446.2,21.8 L447.2,22.8 L448.2,24.2 L449.2,26.2 L450.2,28.4 L451.2,30.6 L452.2,32.6 L453.2,34.6 L454.2,36.6 L455.2,38.5 L456.2,40.3 L457.2,42.1 L458.2,43.9 L459.2,45.7 L460.2,47.4 L461.2,49.1 L462.2,50.7 L463.2,52.4 L464.2,53.9 L465.2,55.5 L466.2,57.0 L467.2,58.4 L468.2,59.8 L469.2,61.2 L470.2,62.5 L471.2,63.7 L472.2,64.9 L473.2,66.0 L474.2,67.1 L475.2,68.2 L476.2,69.1 L477.2,70.0 L478.2,70.9 L479.2,71.6 L480.2,72.3 L481.2,72.9 L482.2,73.5 L483.2,74.0 L484.2,74.4 L485.2,74.7 L485.3,74.8" stroke="#d03020" />
<path d="M290.0,135.5 L291.0,135.2 L292.0,134.9 L293.0,134.7 L294.0,134.4 L295.0,134.1 L296.0,133.9 L297.0,133.6 L298.0,133.3 L299.0,133.1 L300.0,132.8 L301.0,132.5 L302.0,132.3 L303.0,132.0 L304.0,131.7 L305.0,131.5 L306.0,131.2 L307.0,130.9 L308.0,130.7 L309.0,130.4 L310.0,130.2 L311.0,129.9 L312.0,129.6 L313.0,129.4 L314.0,129.1 L315.0,128.9 L316.0,128.6 L317.0,128.4 L318.0,128.1 L319.0,127.9 L320.0,127.6 L321.0,127.4 L322.0,127.1 L323.0,126.9 L324.0,126.6 L325.0,126.4 L326.0,126.1 L327.0,125.9 L328.0,125.7 L329.0,125.4 L330.0,125.2 L331.0,124.9 L332.0,124.7 L333.0,124.5 L334.0,124.3 L335.0,124.0 L336.0,123.8 L337.0,123.6 L338.0,123.4 L339.0,123.1 L340.0,122.9 L341.0,122.7 L342.0,122.5 L343.0,122.3 L344.0,122.1 L345.0,121.9 L346.0,121.6 L347.0,121.4 L348.0,121.2 L349.0,121.0 L350.0,120.9 L351.0,120.7 L352.0,120.5 L353.0,120.3 L354.0,120.1 L355.0,119.9 L356.0,119.7 L357.0,119.6 L358.0,119.4 L359.0,119.2 L360.0,119.0 L361.0,118.8 L362.0,118.6 L363.0,118.4 L364.0,118.2 L365.0,118.0 L366.0,117.8 L367.0,117.5 L368.0,117.2 L369.0,116.9 L370.0,116.6 L371.0,116.3 L372.0,115.9 L373.0,115.5 L374.0,115.1 L375.0,114.6 L376.0,114.1 L377.0,113.6 L378.0,113.0 L379.0,112.4 L380.0,111.7 L381.0,111.1 L382.0,110.3 L383.0,109.6 L384.0,108.8 L385.0,107.9 L386.0,107.1 L387.0,106.2 L388.0,105.3 L389.0,104.3 L390.0,103.4 L391.0,102.4 L392.0,101.4 L393.0,100.5 L394.0,99.5 L395.0,98.5 L396.0,97.5 L397.0,96.5 L398.0,95.6 L399.0,94.6 L400.0,93.7 L401.0,92.7 L402.0,91.8 L403.0,90.9 L404.0,90.1 L405.0,89.3 L406.0,88.4 L407.0,87.7 L408.0,86.9 L409.0,86.1 L410.0,85.3 L411.0,84.5 L412.0,83.7 L413.0,82.9 L414.0,82.0 L415.0,81.1 L416.0,80.1 L417.0,79.1 L418.0,78.0 L419.0,76.9 L420.0,75.6 L421.0,74.3 L422.0,72.9 L423.0,71.4 L424.0,69.7 L425.0,68.0 L426.0,66.1 L427.0,64.1 L428.0,61.9 L429.0,59.6 L430.0,56.9 L431.0,54.1 L432.0,51.2 L433.0,48.1 L434.0,44.9 L435.0,41.7 L436.0,38.5 L437.0,35.5 L438.0,32.6 L439.0,29.9 L440.0,27.5 L441.0,25.4 L442.0,23.7 L443.0,22.4 L444.0,21.5 L445.0,20.9 L446.0,20.6 L447.0,20.5 L448.0,20.6 L449.0,20.8 L450.0,21.2 L451.0,21.7 L452.0,22.3 L453.0,23.0 L454.0,23.7 L455.0,24.6 L456.0,25.5 L457.0,26.4 L458.0,27.4 L459.0,28.3 L460.0,29.3 L461.0,30.2 L462.0,31.1 L463.0,31.9 L464.0,32.7 L465.0,33.5 L466.0,34.2 L467.0,34.9 L468.0,35.6 L469.0,36.3 L470.0,36.9 L471.0,37.5 L472.0,38.1 L473.0,38.7 L474.0,39.3 L475.0,39.9 L476.0,40.5 L477.0,41.1 L478.0,41.7 L479.0,42.3 L480.0,42.9 L481.0,43.5 L482.0,44.1 L483.0,44.8 L484.0,45.5 L485.0,46.2 L485.3,46.4" stroke="#c02418" />
</g>
<!-- colour bar + arrow -->
<rect x="277.9" y="141.1" width="207.5" height="6.2" fill="url(#bar)"/>
<path d="M484.9,138.9 L501.5,144.4 L484.9,149.9 Z" fill="#d80c0c"/>
<g class="bl" stroke-width="0.9" paint-order="stroke" stroke-linejoin="round">
<text x="278.5" y="147.8" textLength="17" lengthAdjust="spacingAndGlyphs" fill="#3a3ad0" stroke="#0a0a80">400</text>
<text x="310.8" y="147.8" textLength="15.5" lengthAdjust="spacingAndGlyphs" fill="#5868f8" stroke="#1818a0">450</text>
<text x="343.3" y="147.8" textLength="15.3" lengthAdjust="spacingAndGlyphs" fill="#58b8d8" stroke="#105868">500</text>
<text x="375.6" y="147.8" textLength="14.6" lengthAdjust="spacingAndGlyphs" fill="#80ee70" stroke="#106810">550</text>
<text x="406.6" y="147.8" textLength="15.4" lengthAdjust="spacingAndGlyphs" fill="#c8c860" stroke="#505010">600</text>
<text x="438.6" y="147.8" textLength="15.2" lengthAdjust="spacingAndGlyphs" fill="#f08080" stroke="#781010">650</text>
<text x="473.1" y="147.8" textLength="12.6" lengthAdjust="spacingAndGlyphs" fill="#f08080" stroke="#781010">700</text>
</g>
<!-- curved arrow -->
<path d="M233.8,168.5 C236.5,173.6 241,176.6 246.5,178.6 C250.5,180 254.5,181.2 258.8,182 L259.8,180.7 L272.6,194.8 L258,195.4 L256.6,192.6 C250,190.2 244,186.5 240,182.2 C237,179 234.6,174.5 233.8,168.5 Z" fill="url(#arw)"/>
<path d="M259.3,181.6 L267,189.6 L262.5,190.2 L258.6,184.5 Z" fill="#7a7a7a" opacity="0.85"/>
<!-- bottom panels -->
<rect x="35.5" y="203.3" width="103.8" height="91.1" fill="#fff"/><path d="M43.7,267.4 L44.2,267.9 L44.7,268.4 L45.2,268.8 L45.7,269.3 L46.2,269.7 L46.7,270.0 L47.2,270.4 L47.7,270.7 L48.2,270.9 L48.7,271.1 L49.2,271.3 L49.7,271.4 L50.2,271.5 L50.7,271.7 L51.2,271.8 L51.7,272.0 L52.2,272.1 L52.7,272.3 L53.2,272.5 L53.7,272.7 L54.2,273.0 L54.7,273.3 L55.2,273.6 L55.7,273.9 L56.2,274.2 L56.7,274.5 L57.2,274.8 L57.7,275.2 L58.2,275.5 L58.7,275.7 L59.2,275.8 L59.7,275.9 L60.2,275.9 L60.7,276.0 L61.2,276.0 L61.7,276.0 L62.2,275.9 L62.7,275.7 L63.2,275.5 L63.7,275.3 L64.2,274.9 L64.7,274.3 L65.2,273.6 L65.7,272.9 L66.2,272.2 L66.7,271.6 L67.2,270.9 L67.7,270.3 L68.2,269.6 L68.7,268.9 L69.2,268.3 L69.7,267.6 L70.2,266.9 L70.7,266.3 L71.2,265.6 L71.7,264.9 L72.2,264.2 L72.7,263.5 L73.2,262.9 L73.7,262.2 L74.2,261.5 L74.7,260.9 L75.2,260.3 L75.7,259.8 L76.2,259.2 L76.7,258.7 L77.2,258.1 L77.7,257.5 L78.2,256.9 L78.7,256.3 L79.2,255.6 L79.7,254.9 L80.2,254.1 L80.7,253.3 L81.2,252.4 L81.7,251.4 L82.2,250.1 L82.7,248.5 L83.2,246.8 L83.7,244.9 L84.2,243.0 L84.7,241.1 L85.2,239.3 L85.7,237.4 L86.2,235.5 L86.7,233.6 L87.2,231.6 L87.7,229.7 L88.2,227.8 L88.7,226.1 L89.2,224.6 L89.7,223.2 L90.2,221.8 L90.7,220.4 L91.2,219.2 L91.7,218.0 L92.2,217.0 L92.7,216.1 L93.2,215.4 L93.7,214.7 L94.2,214.1 L94.7,213.5 L95.2,213.0 L95.7,212.5 L96.2,212.0 L96.7,211.6 L97.2,211.3 L97.7,211.1 L98.2,210.9 L98.7,210.8 L99.2,210.8 L99.7,210.7 L100.2,210.7 L100.7,211.0 L101.2,211.4 L101.7,211.9 L102.2,212.4 L102.7,212.9 L103.2,213.6 L103.7,214.3 L104.2,215.1 L104.7,215.9 L105.2,216.8 L105.7,217.7 L106.2,218.6 L106.7,219.5 L107.2,220.4 L107.7,221.2 L108.2,222.1 L108.7,223.0 L109.2,223.9 L109.7,224.9 L110.2,225.8 L110.7,226.7 L111.2,227.7 L111.7,228.6 L112.2,229.6 L112.7,230.5 L113.2,231.4 L113.7,232.2 L114.2,233.1 L114.7,234.0 L115.2,234.8 L115.7,235.7 L116.2,236.6 L116.7,237.5 L117.2,238.3 L117.7,239.1 L118.2,239.9 L118.7,240.7 L119.2,241.4 L119.7,242.0 L120.2,242.6 L120.7,243.1 L121.2,243.6 L121.7,244.1 L122.2,244.6 L122.7,245.1 L123.2,245.5 L123.7,245.9 L124.2,246.3 L124.7,246.7 L125.2,247.0 L125.7,247.3 L126.2,247.6 L126.7,247.9 L127.2,248.1 L127.7,248.2 L128.2,248.4 L128.7,248.5 L129.2,248.7 L129.7,248.8 L130.2,249.0 L130.7,249.2 L131.2,249.5 L131.7,249.8 L132.2,250.2 L132.7,250.7 L133.2,251.2 L133.7,251.7 L133.8,251.8 L133.8,276.3 L43.7,276.3 Z" fill="url(#sg0)" stroke="none"/><line x1="133.8" y1="203.3" x2="133.8" y2="276.3" stroke="#b0b0b0" stroke-width="0.8"/><line x1="43.7" y1="203.3" x2="43.7" y2="276.3" stroke="#a8a8a8" stroke-width="0.8"/><line x1="43.7" y1="276.6" x2="133.8" y2="276.6" stroke="#a8a8a8" stroke-width="0.8"/><rect x="46.9" y="205.9" width="30.2" height="25.8" fill="url(#ibg0)"/><ellipse cx="63" cy="228.8" rx="4.5" ry="3.2" fill="url(#rg0)"/><circle cx="62" cy="215.9" r="4.8" fill="url(#glow0)"/><circle cx="62" cy="215.9" r="1.3" fill="#ffd8d8"/><text x="43.7" y="283.8" class="tk">400</text><text x="66.2" y="283.8" class="tk">500</text><text x="88.8" y="283.8" class="tk">600</text><text x="111.3" y="283.8" class="tk">700</text><text x="133.8" y="283.8" class="tk">800</text><text x="88.8" y="293.2" class="tk">Wavelength (nm)</text><text transform="translate(41.1,241.3) rotate(-90)" class="tk">EL intensity (a.u.)</text>
<rect x="156" y="203.3" width="103.7" height="91.1" fill="#fff"/><path d="M163.5,274.6 L164.0,274.7 L164.5,274.7 L165.0,274.8 L165.5,274.8 L166.0,274.9 L166.5,274.9 L167.0,274.9 L167.5,274.9 L168.0,275.0 L168.5,275.0 L169.0,275.0 L169.5,275.0 L170.0,275.0 L170.5,275.0 L171.0,275.0 L171.5,274.9 L172.0,274.9 L172.5,274.8 L173.0,274.8 L173.5,274.7 L174.0,274.7 L174.5,274.7 L175.0,274.6 L175.5,274.6 L176.0,274.6 L176.5,274.6 L177.0,274.6 L177.5,274.6 L178.0,274.6 L178.5,274.5 L179.0,274.5 L179.5,274.5 L180.0,274.5 L180.5,274.4 L181.0,274.0 L181.5,273.5 L182.0,272.9 L182.5,272.3 L183.0,271.6 L183.5,270.9 L184.0,270.2 L184.5,269.3 L185.0,268.4 L185.5,267.4 L186.0,266.3 L186.5,265.1 L187.0,264.0 L187.5,262.8 L188.0,261.5 L188.5,260.1 L189.0,258.6 L189.5,257.1 L190.0,255.5 L190.5,253.8 L191.0,252.1 L191.5,250.4 L192.0,248.5 L192.5,246.4 L193.0,244.4 L193.5,242.3 L194.0,240.2 L194.5,238.2 L195.0,236.3 L195.5,234.5 L196.0,232.7 L196.5,230.9 L197.0,229.1 L197.5,227.5 L198.0,225.9 L198.5,224.4 L199.0,223.0 L199.5,221.7 L200.0,220.4 L200.5,219.2 L201.0,218.1 L201.5,217.0 L202.0,216.1 L202.5,215.3 L203.0,214.6 L203.5,214.0 L204.0,213.4 L204.5,212.8 L205.0,212.3 L205.5,211.9 L206.0,211.6 L206.5,211.5 L207.0,211.5 L207.5,211.7 L208.0,212.0 L208.5,212.3 L209.0,212.7 L209.5,213.2 L210.0,213.7 L210.5,214.2 L211.0,214.8 L211.5,215.5 L212.0,216.4 L212.5,217.4 L213.0,218.5 L213.5,219.6 L214.0,220.8 L214.5,221.9 L215.0,223.1 L215.5,224.2 L216.0,225.2 L216.5,226.3 L217.0,227.4 L217.5,228.5 L218.0,229.7 L218.5,230.8 L219.0,232.0 L219.5,233.1 L220.0,234.2 L220.5,235.3 L221.0,236.4 L221.5,237.5 L222.0,238.5 L222.5,239.5 L223.0,240.5 L223.5,241.4 L224.0,242.4 L224.5,243.4 L225.0,244.3 L225.5,245.2 L226.0,246.1 L226.5,247.0 L227.0,247.9 L227.5,248.7 L228.0,249.5 L228.5,250.2 L229.0,250.9 L229.5,251.6 L230.0,252.3 L230.5,253.0 L231.0,253.6 L231.5,254.3 L232.0,254.9 L232.5,255.5 L233.0,256.1 L233.5,256.7 L234.0,257.2 L234.5,257.7 L235.0,258.3 L235.5,258.8 L236.0,259.2 L236.5,259.7 L237.0,260.1 L237.5,260.6 L238.0,261.0 L238.5,261.4 L239.0,261.8 L239.5,262.2 L240.0,262.6 L240.5,263.0 L241.0,263.3 L241.5,263.7 L242.0,264.0 L242.5,264.4 L243.0,264.7 L243.5,265.0 L244.0,265.3 L244.5,265.6 L245.0,265.8 L245.5,266.1 L246.0,266.3 L246.5,266.6 L247.0,266.8 L247.5,267.0 L248.0,267.2 L248.5,267.3 L249.0,267.5 L249.5,267.7 L250.0,267.9 L250.5,268.1 L251.0,268.3 L251.5,268.5 L252.0,268.7 L252.5,269.0 L253.0,269.2 L253.5,269.5 L253.5,276.3 L163.5,276.3 Z" fill="url(#sg1)" stroke="none"/><line x1="253.5" y1="203.3" x2="253.5" y2="276.3" stroke="#b0b0b0" stroke-width="0.8"/><line x1="163.5" y1="203.3" x2="163.5" y2="276.3" stroke="#a8a8a8" stroke-width="0.8"/><line x1="163.5" y1="276.6" x2="253.5" y2="276.6" stroke="#a8a8a8" stroke-width="0.8"/><rect x="165.9" y="205.9" width="29.0" height="25.8" fill="url(#ibg1)"/><ellipse cx="178.5" cy="229.3" rx="5" ry="3" fill="url(#rg1)"/><rect x="179.5" y="205.9" width="2" height="25.8" fill="#f4dc50" opacity="0.25" filter="url(#soft)"/><rect x="172.5" y="217.9" width="16" height="1.4" fill="#f4dc50" opacity="0.2" filter="url(#soft)"/><circle cx="180.5" cy="218.6" r="7" fill="url(#glow1)"/><circle cx="180.5" cy="218.6" r="2.6" fill="#fffbd8"/><text x="163.5" y="283.8" class="tk">400</text><text x="186.0" y="283.8" class="tk">500</text><text x="208.5" y="283.8" class="tk">600</text><text x="231.0" y="283.8" class="tk">700</text><text x="253.5" y="283.8" class="tk">800</text><text x="208.5" y="293.2" class="tk">Wavelength (nm)</text><text transform="translate(160.9,241.3) rotate(-90)" class="tk">EL intensity (a.u.)</text>
<rect x="276" y="203.3" width="104.3" height="91.1" fill="#fff"/><path d="M284.6,205.7 L285.1,220.9 L285.6,231.7 L286.1,239.4 L286.6,244.9 L287.1,248.4 L287.6,251.0 L288.1,253.1 L288.6,254.8 L289.1,256.3 L289.6,257.8 L290.1,259.2 L290.6,260.3 L291.1,260.8 L291.6,260.7 L292.1,260.4 L292.6,259.8 L293.1,259.2 L293.6,258.4 L294.1,257.7 L294.6,257.0 L295.1,256.4 L295.6,255.9 L296.1,255.3 L296.6,254.8 L297.1,254.3 L297.6,253.8 L298.1,253.4 L298.6,252.9 L299.1,252.4 L299.6,251.9 L300.1,251.3 L300.6,250.8 L301.1,250.3 L301.6,249.7 L302.1,249.2 L302.6,248.6 L303.1,248.0 L303.6,247.4 L304.1,246.8 L304.6,246.2 L305.1,245.7 L305.6,245.1 L306.1,244.6 L306.6,244.1 L307.1,243.6 L307.6,243.1 L308.1,242.5 L308.6,242.1 L309.1,241.6 L309.6,241.3 L310.1,240.9 L310.6,240.6 L311.1,240.4 L311.6,240.1 L312.1,239.8 L312.6,239.5 L313.1,239.3 L313.6,239.1 L314.1,239.0 L314.6,238.9 L315.1,238.8 L315.6,238.8 L316.1,238.8 L316.6,238.9 L317.1,239.0 L317.6,239.1 L318.1,239.3 L318.6,239.5 L319.1,239.7 L319.6,239.9 L320.1,240.1 L320.6,240.3 L321.1,240.6 L321.6,240.8 L322.1,241.1 L322.6,241.5 L323.1,242.0 L323.6,242.6 L324.1,243.3 L324.6,244.0 L325.1,244.8 L325.6,245.6 L326.1,246.4 L326.6,247.2 L327.1,248.1 L327.6,248.9 L328.1,249.7 L328.6,250.5 L329.1,251.2 L329.6,251.8 L330.1,252.5 L330.6,253.1 L331.1,253.7 L331.6,254.4 L332.1,255.0 L332.6,255.6 L333.1,256.2 L333.6,256.8 L334.1,257.4 L334.6,258.0 L335.1,258.5 L335.6,259.1 L336.1,259.6 L336.6,260.2 L337.1,260.7 L337.6,261.2 L338.1,261.7 L338.6,262.2 L339.1,262.6 L339.6,263.1 L340.1,263.5 L340.6,263.9 L341.1,264.4 L341.6,264.8 L342.1,265.2 L342.6,265.7 L343.1,266.1 L343.6,266.5 L344.1,267.0 L344.6,267.4 L345.1,267.9 L345.6,268.4 L346.1,269.0 L346.6,269.5 L347.1,270.1 L347.6,270.7 L348.1,271.3 L348.6,271.8 L349.1,272.2 L349.6,272.6 L350.1,272.9 L350.6,273.0 L351.1,273.2 L351.6,273.4 L352.1,273.5 L352.6,273.6 L353.1,273.8 L353.6,273.9 L354.1,273.9 L354.6,274.0 L355.1,274.0 L355.6,274.0 L356.1,274.0 L356.6,274.1 L357.1,274.1 L357.6,274.1 L358.1,274.1 L358.6,274.1 L359.1,274.1 L359.6,274.1 L360.1,274.1 L360.6,274.2 L361.1,274.2 L361.6,274.2 L362.1,274.2 L362.6,274.2 L363.1,274.2 L363.6,274.2 L364.1,274.2 L364.6,274.2 L365.1,274.2 L365.6,274.2 L366.1,274.3 L366.6,274.3 L367.1,274.3 L367.6,274.3 L368.1,274.3 L368.6,274.3 L369.1,274.3 L369.6,274.3 L370.1,274.3 L370.6,274.3 L371.1,274.3 L371.6,274.3 L372.1,274.3 L372.6,274.3 L373.1,274.3 L373.6,274.3 L374.1,274.3 L374.3,274.3 L374.3,276.3 L284.6,276.3 Z" fill="url(#sg2)" stroke="none"/><line x1="374.3" y1="203.3" x2="374.3" y2="276.3" stroke="#b0b0b0" stroke-width="0.8"/><line x1="284.6" y1="203.3" x2="284.6" y2="276.3" stroke="#a8a8a8" stroke-width="0.8"/><line x1="284.6" y1="276.6" x2="374.3" y2="276.6" stroke="#a8a8a8" stroke-width="0.8"/><rect x="342.1" y="206.1" width="29.2" height="25.6" fill="url(#ibg2)"/><ellipse cx="357.5" cy="229.3" rx="4.5" ry="3.2" fill="url(#rg2)"/><rect x="355.3" y="207.1" width="1.4" height="23.6" fill="#70b080" opacity="0.12" filter="url(#soft)"/><circle cx="356" cy="218.1" r="4.5" fill="url(#glow2)"/><circle cx="356" cy="218.1" r="2.0" fill="#f0fff0"/><text x="284.6" y="283.8" class="tk">400</text><text x="307.0" y="283.8" class="tk">500</text><text x="329.5" y="283.8" class="tk">600</text><text x="351.9" y="283.8" class="tk">700</text><text x="374.3" y="283.8" class="tk">800</text><text x="329.5" y="293.2" class="tk">Wavelength (nm)</text><text transform="translate(282.0,241.3) rotate(-90)" class="tk">EL intensity (a.u.)</text>
<rect x="396.6" y="203.3" width="104.3" height="91.1" fill="#fff"/><path d="M405.2,205.0 L405.7,219.2 L406.2,227.8 L406.7,234.0 L407.2,238.3 L407.7,239.5 L408.2,239.2 L408.7,238.6 L409.2,237.9 L409.7,237.3 L410.2,236.9 L410.7,236.5 L411.2,236.2 L411.7,235.8 L412.2,235.5 L412.7,235.2 L413.2,235.0 L413.7,234.7 L414.2,234.5 L414.7,234.4 L415.2,234.3 L415.7,234.3 L416.2,234.4 L416.7,234.7 L417.2,235.0 L417.7,235.5 L418.2,236.0 L418.7,236.6 L419.2,237.1 L419.7,237.7 L420.2,238.2 L420.7,238.7 L421.2,239.3 L421.7,240.0 L422.2,240.6 L422.7,241.3 L423.2,242.0 L423.7,242.7 L424.2,243.4 L424.7,244.1 L425.2,244.8 L425.7,245.5 L426.2,246.1 L426.7,246.8 L427.2,247.4 L427.7,247.9 L428.2,248.5 L428.7,249.1 L429.2,249.6 L429.7,250.2 L430.2,250.7 L430.7,251.3 L431.2,251.8 L431.7,252.3 L432.2,252.8 L432.7,253.4 L433.2,253.9 L433.7,254.4 L434.2,254.9 L434.7,255.4 L435.2,255.9 L435.7,256.4 L436.2,256.8 L436.7,257.3 L437.2,257.8 L437.7,258.3 L438.2,258.7 L438.7,259.2 L439.2,259.6 L439.7,260.1 L440.2,260.5 L440.7,260.9 L441.2,261.4 L441.7,261.8 L442.2,262.2 L442.7,262.7 L443.2,263.1 L443.7,263.6 L444.2,264.0 L444.7,264.4 L445.2,264.9 L445.7,265.3 L446.2,265.7 L446.7,266.2 L447.2,266.6 L447.7,267.0 L448.2,267.4 L448.7,267.8 L449.2,268.2 L449.7,268.5 L450.2,268.9 L450.7,269.2 L451.2,269.6 L451.7,269.9 L452.2,270.2 L452.7,270.5 L453.2,270.8 L453.7,271.0 L454.2,271.2 L454.7,271.4 L455.2,271.6 L455.7,271.8 L456.2,272.0 L456.7,272.2 L457.2,272.4 L457.7,272.6 L458.2,272.8 L458.7,273.0 L459.2,273.2 L459.7,273.4 L460.2,273.6 L460.7,273.7 L461.2,273.9 L461.7,274.1 L462.2,274.2 L462.7,274.4 L463.2,274.5 L463.7,274.7 L464.2,274.8 L464.7,275.0 L465.2,275.1 L465.7,275.2 L466.2,275.3 L466.7,275.4 L467.2,275.5 L467.7,275.6 L468.2,275.7 L468.7,275.8 L469.2,275.8 L469.7,275.9 L470.2,275.9 L470.7,276.0 L471.2,276.0 L471.7,276.0 L472.2,276.0 L472.7,276.0 L473.2,276.0 L473.7,276.1 L474.2,276.1 L474.7,276.1 L475.2,276.1 L475.7,276.1 L476.2,276.1 L476.7,276.1 L477.2,276.1 L477.7,276.1 L478.2,276.1 L478.7,276.2 L479.2,276.2 L479.7,276.2 L480.2,276.2 L480.7,276.2 L481.2,276.2 L481.7,276.2 L482.2,276.2 L482.7,276.2 L483.2,276.2 L483.7,276.2 L484.2,276.2 L484.7,276.2 L485.2,276.2 L485.7,276.3 L486.2,276.3 L486.7,276.3 L487.2,276.3 L487.7,276.3 L488.2,276.3 L488.7,276.3 L489.2,276.3 L489.7,276.3 L490.2,276.3 L490.7,276.3 L491.2,276.3 L491.7,276.3 L492.2,276.3 L492.7,276.3 L493.2,276.3 L493.7,276.3 L494.2,276.3 L494.7,276.3 L495.2,276.3 L495.3,276.3 L495.3,276.3 L405.2,276.3 Z" fill="url(#sg3)" stroke="none"/><line x1="495.3" y1="203.3" x2="495.3" y2="276.3" stroke="#b0b0b0" stroke-width="0.8"/><line x1="405.2" y1="203.3" x2="405.2" y2="276.3" stroke="#a8a8a8" stroke-width="0.8"/><line x1="405.2" y1="276.6" x2="495.3" y2="276.6" stroke="#a8a8a8" stroke-width="0.8"/><rect x="461.9" y="206.1" width="29.7" height="25.6" fill="url(#ibg3)"/><ellipse cx="477.7" cy="228.5" rx="4" ry="3.5" fill="url(#rg3)"/><rect x="476.0" y="207.1" width="1.4" height="23.6" fill="#7090c0" opacity="0.12" filter="url(#soft)"/><circle cx="476.7" cy="218.8" r="4.8" fill="url(#glow3)"/><circle cx="476.7" cy="218.8" r="2.0" fill="#ffffff"/><text x="405.2" y="283.8" class="tk">400</text><text x="427.7" y="283.8" class="tk">500</text><text x="450.2" y="283.8" class="tk">600</text><text x="472.8" y="283.8" class="tk">700</text><text x="495.3" y="283.8" class="tk">800</text><text x="450.2" y="293.2" class="tk">Wavelength (nm)</text><text transform="translate(402.6,241.3) rotate(-90)" class="tk">EL intensity (a.u.)</text>
</svg>
</body></html>
